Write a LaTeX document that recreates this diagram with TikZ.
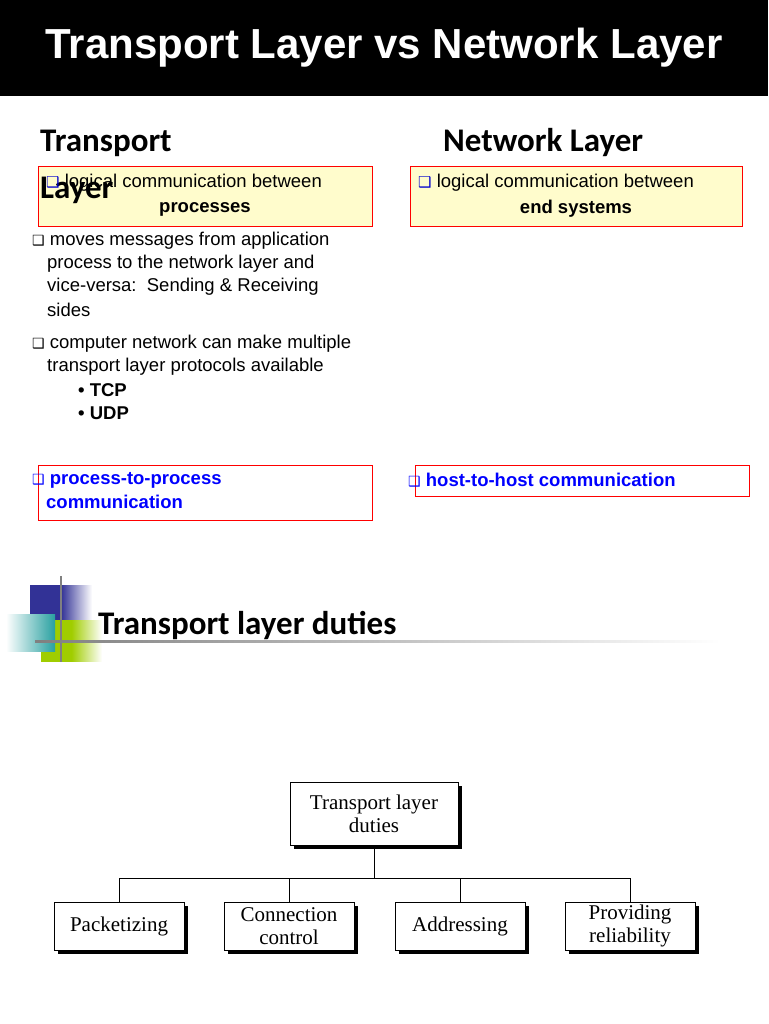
\documentclass[tikz,border=0pt]{standalone}
\usepackage{fontspec}
\setmainfont{Liberation Serif}
\setsansfont{Liberation Sans}
\newfontfamily\calfont{Carlito}
\newfontfamily\djfont{DejaVu Sans}
\begin{document}
\begin{tikzpicture}[x=1pt,y=-1pt,
  ybox/.style={draw=red,fill=yellow!20,line width=0.6pt},
  wbox/.style={draw=red,fill=white,line width=0.6pt},
  txt/.style={anchor=west,inner sep=0pt,font=\sffamily\fontsize{18.5}{20}\selectfont},
  btxt/.style={anchor=west,inner sep=0pt,font=\sffamily\bfseries\fontsize{18.5}{20}\selectfont},
  duty/.style={draw,thick,fill=white,align=center,font=\rmfamily\fontsize{21}{23}\selectfont,inner sep=0pt},
  shad/.style={fill=black}]
\useasboundingbox (0,0) rectangle (768,1024);
\fill (0,0) rectangle (768,96);
\node[white,font=\sffamily\bfseries\fontsize{42}{44}\selectfont] (title) at (384,48) {Transport Layer vs Network Layer};
% headings
\node[anchor=west,inner sep=0pt,font=\calfont\bfseries\fontsize{33}{34}\selectfont] (th) at (40,143) {Transport};
\node[anchor=west,inner sep=0pt,font=\calfont\bfseries\fontsize{33}{34}\selectfont] (nh) at (443,143) {Network Layer};
% yellow boxes
\filldraw[ybox] (38,166) rectangle (372,226);
\filldraw[ybox] (410,166) rectangle (742,226);
\node[anchor=west,inner sep=0pt,font=\calfont\bfseries\fontsize{33}{34}\selectfont] (tl) at (40,190) {Layer};
\node[txt] (l1) at (46,183) {{\djfont\color{blue!80!black}\fontsize{15}{16}\selectfont ❑} logical communication between};
\node[font=\sffamily\bfseries\fontsize{18.5}{20}\selectfont,inner sep=0pt] (l2) at (205,209) {processes};
\node[txt] (r1) at (418,183) {{\djfont\color{blue!80!black}\fontsize{15}{16}\selectfont ❑} logical communication between};
\node[font=\sffamily\bfseries\fontsize{18.5}{20}\selectfont,inner sep=0pt] (r2) at (576,209) {end systems};
% bullets
\node[txt] (b1) at (32,241) {{\djfont\fontsize{14}{16}\selectfont ❑} moves messages from application};
\node[txt] (b2) at (47,264) {process to the network layer and};
\node[txt] (b3) at (47,287) {vice-versa:\ \ Sending \& Receiving};
\node[txt] (b4) at (47,310) {sides};
\node[txt] (b5) at (32,344) {{\djfont\fontsize{14}{16}\selectfont ❑} computer network can make multiple};
\node[txt] (b6) at (47,367) {transport layer protocols available};
\node[btxt] (b7) at (78,390) {\textbullet\ TCP};
\node[btxt] (b8) at (78,413) {\textbullet\ UDP};
% white boxes
\filldraw[wbox] (38,465) rectangle (372,520);
\filldraw[wbox] (415,465) rectangle (749,496);
\node[btxt,blue] (p1) at (32,480) {{\djfont\mdseries\fontsize{14}{16}\selectfont ❑} process-to-process};
\node[btxt,blue] (p2) at (46,502) {communication};
\node[btxt,blue] (h1) at (408,480) {{\djfont\mdseries\fontsize{14}{16}\selectfont ❑} host-to-host communication};
% decoration
\shade[left color={rgb,255:red,50;green,50;blue,150},right color=white,middle color={rgb,255:red,50;green,50;blue,150}] (30,585) rectangle (92,640);
\shade[left color={rgb,255:red,160;green,205;blue,0},right color=white,middle color={rgb,255:red,160;green,205;blue,0}] (41,620) rectangle (102,661);
\shade[left color=white,right color={rgb,255:red,40;green,160;blue,160}] (6,614) rectangle (55,651);
\draw[gray,line width=2pt] (61,576) -- (61,662);
\shade[left color=gray,right color=white] (35,640) rectangle (720,642);
\node[anchor=west,inner sep=0pt,font=\calfont\bfseries\fontsize{33}{34}\selectfont] (dt) at (98,625) {Transport layer duties};
% tree
\fill[shad] (294,786) rectangle (462,849);
\node[duty,minimum width=168pt,minimum height=63pt] (root) at (374,813.5) {Transport layer\\duties};
\foreach \n/\x/\t in {c1/119/Packetizing,c2/289/{Connection\\control},c3/460/Addressing,c4/630/{Providing\\reliability}}{
  \fill[shad] (\x-61,906) rectangle (\x+69,954);
  \node[duty,minimum width=130pt,minimum height=48pt] (\n) at (\x,926) {\t};
}
\coordinate (j) at (374,878);
\draw[thick] (root.south) -- (j);
\draw[thick] (119,878) -- (630,878);
\foreach \n in {c1,c2,c3,c4} \draw[thick] (\n.north) -- (\n.north |- j);
\end{tikzpicture}
\end{document}
